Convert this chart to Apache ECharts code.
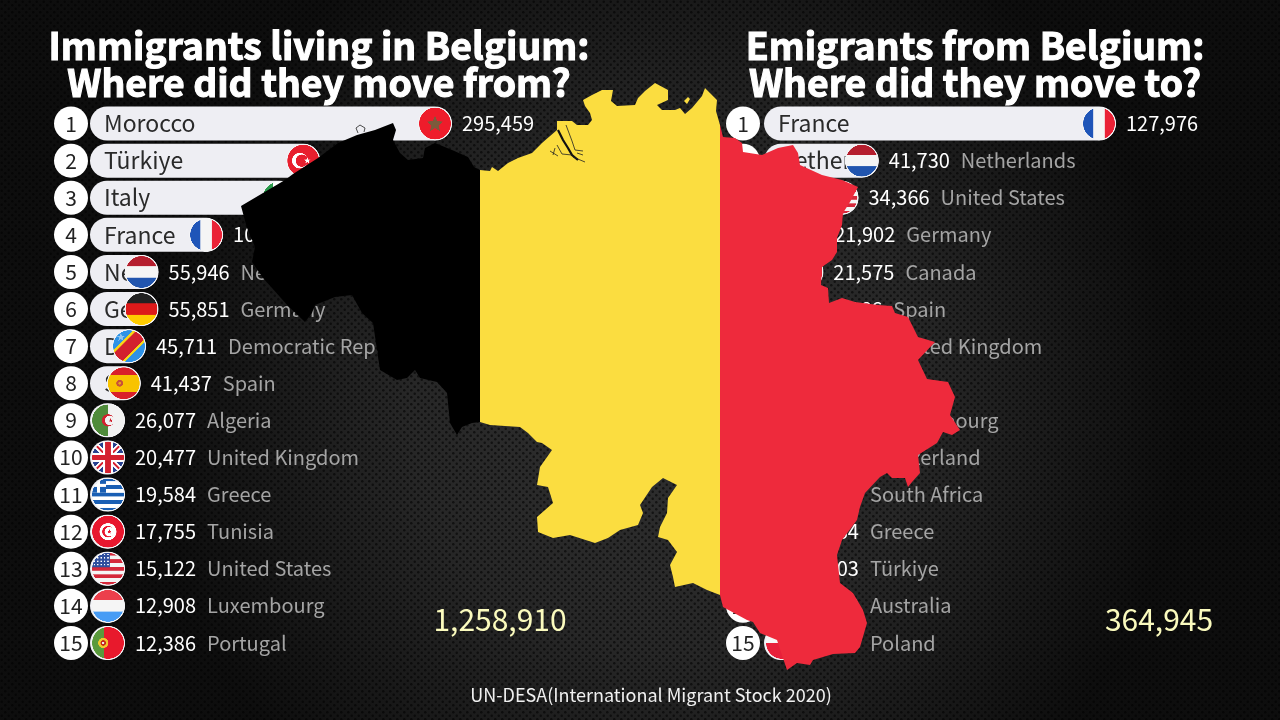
<!DOCTYPE html>
<html>
<head>
<meta charset="utf-8">
<style>html,body{margin:0;padding:0;background:#000}#c{width:1280px;height:720px}</style>
<script src="https://cdn.jsdelivr.net/npm/echarts@6/dist/echarts.min.js"></script>
</head>
<body>
<div id="c"></div>
<script>
const ranks = ['1','2','3','4','5','6','7','8','9','10','11','12','13','14','15'];
const leftNames = ['Morocco','Türkiye','Italy','France','Netherlands','Germany','Democratic Republic of the Congo','Spain','Algeria','United Kingdom','Greece','Tunisia','United States','Luxembourg','Portugal'];
const leftValues = [295459,187900,168000,108612,55946,55851,45711,41437,26077,20477,19584,17755,15122,12908,12386];
const rightNames = ['France','Netherlands','United States','Germany','Canada','Spain','United Kingdom','Italy','Luxembourg','Switzerland','South Africa','Greece','Türkiye','Australia','Poland'];
const rightValues = [127976,41730,34366,21902,21575,17166,16120,14960,12700,9910,9530,9284,9003,8830,8610];
const titleLeft = 'Immigrants living in Belgium:\nWhere did they move from?';
const titleRight = 'Emigrants from Belgium:\nWhere did they move to?';
const totalLeft = '1,258,910';
const totalRight = '364,945';
const sourceText = 'UN-DESA(International Migrant Stock 2020)';

// Silhouette of the country
const belgiumOutline = [[241,206],[263,193],[285,180],[293,174],[318,158],[338,143],[357,135],[375,130],[393,123],[396,130],[393,140],[400,153],[408,160],[423,158],[425,148],[435,143],[452,150],[468,157],[474,167],[480,170],[490,171],[492,167],[498,171],[508,163],[518,158],[532,153],[542,143],[557,130],[557,121],[572,121],[577,125],[588,125],[592,120],[590,113],[585,106],[583,100],[592,95],[602,90],[613,90],[611,101],[617,106],[635,105],[638,98],[645,91],[655,83],[668,90],[668,100],[657,105],[662,110],[675,110],[680,108],[685,114],[692,108],[702,96],[705,88],[717,100],[716,111],[720,125],[723,137],[735,138],[742,143],[743,152],[762,155],[778,148],[793,145],[798,153],[800,165],[822,175],[842,180],[858,187],[850,202],[843,213],[842,225],[837,238],[837,252],[832,260],[822,267],[821,285],[828,288],[829,303],[842,298],[855,302],[878,305],[892,306],[895,313],[908,317],[918,337],[935,342],[918,360],[927,379],[948,382],[955,397],[950,415],[960,430],[952,435],[943,432],[937,443],[918,455],[920,473],[912,482],[908,487],[905,478],[892,478],[887,473],[880,477],[865,493],[860,507],[857,520],[842,540],[837,555],[840,583],[853,593],[863,610],[867,623],[860,647],[855,653],[833,654],[813,660],[810,665],[797,663],[787,670],[783,658],[777,640],[760,633],[753,622],[747,620],[723,607],[720,595],[707,590],[693,583],[675,587],[673,577],[670,565],[677,552],[668,540],[658,537],[660,527],[667,513],[668,498],[677,485],[663,478],[652,487],[640,505],[643,513],[638,525],[620,530],[608,538],[595,543],[570,535],[553,538],[538,532],[537,517],[553,503],[548,487],[537,485],[540,467],[552,450],[542,443],[537,442],[528,433],[520,427],[490,425],[480,422],[472,423],[462,427],[457,435],[450,423],[447,393],[437,382],[420,378],[415,370],[407,378],[397,380],[380,370],[377,350],[373,323],[362,313],[352,295],[335,297],[315,305],[312,313],[305,322],[288,306],[272,288],[263,278],[252,262],[255,247],[247,228]];
const islandOutline = [[684,101],[688,97],[690,99],[687,104]];
const canalThick = [[558,130],[563,140],[568,148],[572,155],[578,160]];
const canalThin = [
  [[566,125],[572,141],[575,150]],
  [[575,150],[583,151]],
  [[577,153],[583,155]],
  [[573,157],[585,162]],
  [[572,155],[562,154],[557,145]],
  [[550,151],[558,156]],
  [[555,148],[553,155]],
  [[358,133],[356,128],[360,125],[365,128],[364,132]]
];

function star(g,x,y,r,n,inner){g.beginPath();for(let i=0;i<n*2;i++){const a=-Math.PI/2+i*Math.PI/n,q=i%2?r*(inner||0.4):r;g.lineTo(x+Math.cos(a)*q,y+Math.sin(a)*q);}g.closePath();g.fill();}
function hs(g,cols){const h=100/cols.length;cols.forEach((c,i)=>{g.fillStyle=c;g.fillRect(0,i*h,100,h+1);});}
function vs(g,cols){const w=100/cols.length;cols.forEach((c,i)=>{g.fillStyle=c;g.fillRect(i*w,0,w+1,100);});}
function crescent(g,x,y,r,cut,dx,col,bg){g.fillStyle=col;g.beginPath();g.arc(x,y,r,0,7);g.fill();g.fillStyle=bg;g.beginPath();g.arc(x+dx,y,cut,0,7);g.fill();}
const flagPainters = {
  'Morocco':g=>{g.fillStyle='#ee1c2b';g.fillRect(0,0,100,100);g.fillStyle='#7c5a3c';star(g,50,52,25,5,0.45);},
  'Türkiye':g=>{g.fillStyle='#e81f2e';g.fillRect(0,0,100,100);crescent(g,40,50,23,18,6,'#fff','#e81f2e');g.fillStyle='#fff';star(g,62,50,10,5);},
  'Italy':g=>vs(g,['#2a9a4b','#fff','#e8253a']),
  'France':g=>vs(g,['#1f55b8','#f5f5f5','#ea2236']),
  'Netherlands':g=>hs(g,['#b51f2e','#f5f5f5','#2155ae']),
  'Germany':g=>hs(g,['#222','#dd1a1a','#ffcc00']),
  'Democratic Republic of the Congo':g=>{g.fillStyle='#2e92e6';g.fillRect(0,0,100,100);g.save();g.translate(50,50);g.rotate(-Math.PI/4);g.fillStyle='#f7d618';g.fillRect(-80,-24,160,48);g.fillStyle='#d3202e';g.fillRect(-80,-17,160,34);g.restore();g.fillStyle='#8fc4ee';star(g,26,24,13,5);},
  'Spain':g=>{hs(g,['#d9202a','#f8c300','#f8c300','#d9202a']);g.fillStyle='#c8503a';g.beginPath();g.arc(38,50,10,0,7);g.fill();g.fillStyle='#e8a020';g.beginPath();g.arc(38,50,4,0,7);g.fill();},
  'Algeria':g=>{vs(g,['#4f8b3a','#f2f2f2']);crescent(g,50,50,18,14,5,'#d2232f','#f2f2f2');g.fillStyle='#d2232f';star(g,58,50,7,5);},
  'United Kingdom':g=>{g.fillStyle='#27408f';g.fillRect(0,0,100,100);g.strokeStyle='#fff';g.lineWidth=16;g.beginPath();g.moveTo(0,0);g.lineTo(100,100);g.moveTo(100,0);g.lineTo(0,100);g.stroke();g.strokeStyle='#d5202f';g.lineWidth=6;g.stroke();g.fillStyle='#fff';g.fillRect(36,0,28,100);g.fillRect(0,36,100,28);g.fillStyle='#d5202f';g.fillRect(42,0,16,100);g.fillRect(0,42,100,16);},
  'Greece':g=>{hs(g,['#1a5fb4','#fff','#1a5fb4','#fff','#1a5fb4','#fff','#1a5fb4','#fff','#1a5fb4']);g.fillStyle='#1a5fb4';g.fillRect(0,0,44,44);g.fillStyle='#fff';g.fillRect(18,0,9,44);g.fillRect(0,18,44,9);},
  'Tunisia':g=>{g.fillStyle='#e8172e';g.fillRect(0,0,100,100);g.fillStyle='#fff';g.beginPath();g.arc(50,50,25,0,7);g.fill();crescent(g,50,50,17,14,4,'#e8172e','#fff');g.fillStyle='#e8172e';star(g,54,50,7,5);},
  'United States':g=>{hs(g,['#d5283a','#f5f5f5','#d5283a','#f5f5f5','#d5283a','#f5f5f5','#d5283a','#f5f5f5','#d5283a']);g.fillStyle='#2f4f9e';g.fillRect(0,0,55,46);g.fillStyle='#fff';for(let r=0;r<4;r++)for(let c=0;c<5;c++)g.fillRect(8+c*10,6+r*10,4,4);},
  'Luxembourg':g=>hs(g,['#ec3f4c','#f5f5f5','#479cf5']),
  'Portugal':g=>{g.fillStyle='#5a9a3c';g.fillRect(0,0,38,100);g.fillStyle='#e8192c';g.fillRect(38,0,62,100);g.fillStyle='#f3c82c';g.beginPath();g.arc(36,50,15,0,7);g.fill();g.fillStyle='#c8281c';g.beginPath();g.arc(36,50,8,0,7);g.fill();g.fillStyle='#eee';g.beginPath();g.arc(36,50,3.5,0,7);g.fill();},
  'Canada':g=>{vs(g,['#e01f2f','#fff','#fff','#e01f2f']);g.fillStyle='#e01f2f';star(g,50,50,20,7,0.5);},
  'Switzerland':g=>{g.fillStyle='#e0202f';g.fillRect(0,0,100,100);g.fillStyle='#fff';g.fillRect(42,20,16,60);g.fillRect(20,42,60,16);},
  'South Africa':g=>{hs(g,['#d8202f','#2a8a4a','#1f3f9a']);},
  'Australia':g=>{g.fillStyle='#1f3a8f';g.fillRect(0,0,100,100);g.fillStyle='#fff';star(g,70,55,9,7);star(g,30,72,11,7);},
  'Poland':g=>hs(g,['#f7f7f7','#e8203a'])
};
const flagCache = {};
function flagImage(name){
  if(flagCache[name]) return flagCache[name];
  const cv=document.createElement('canvas');cv.width=cv.height=136;
  const g=cv.getContext('2d');
  g.scale(1.36,1.36);
  g.save();g.beginPath();g.arc(50,50,47,0,7);g.clip();
  flagPainters[name](g);
  g.restore();
  g.strokeStyle='#f4f4f6';g.lineWidth=3;g.beginPath();g.arc(50,50,48,0,7);g.stroke();
  return flagCache[name]=cv;
}
function carbon(){
  const cv=document.createElement('canvas');cv.width=cv.height=7;
  const g=cv.getContext('2d');
  g.fillStyle='#303030';g.fillRect(0,0,7,7);
  g.fillStyle='#151515';
  [[1.75,1.75],[5.25,5.25]].forEach(p=>{g.beginPath();g.arc(p[0],p[1],1.25,0,7);g.fill();});
  return cv;
}

const FONT='"Noto Sans CJK KR","Noto Sans CJK SC","Noto Sans",sans-serif';
const fmt=v=>v.toLocaleString('en-US');
const geoJson={type:'FeatureCollection',features:[{type:'Feature',properties:{name:'Belgium'},geometry:{type:'MultiPolygon',coordinates:[
  [belgiumOutline.concat([belgiumOutline[0]]).map(p=>[p[0],-p[1]])],
  [islandOutline.concat([islandOutline[0]]).map(p=>[p[0],-p[1]])]
]}}]};
echarts.registerMap('belgium',geoJson);

function barSeries(idx,names,values){
  return {
    type:'bar',xAxisIndex:idx,yAxisIndex:idx,z:2,
    data:values,barWidth:34,barMinHeight:35,
    itemStyle:{color:'#eeeef3',borderRadius:17},
    animation:false,silent:true,
    label:{show:true,position:'right',distance:10,
      formatter:p=>{
        const v='{v|'+fmt(p.value)+'}';
        return p.value>100000?v:v+'{n|'+names[p.dataIndex]+'}';
      },
      rich:{
        v:{color:'#ffffff',fontSize:20,fontFamily:FONT},
        n:{color:'#a4a4a4',fontSize:20,fontFamily:FONT,padding:[0,0,0,11]}
      }
    }
  };
}
function overlaySeries(idx,names,values){
  return {
    type:'custom',xAxisIndex:idx,yAxisIndex:idx,z:3,silent:true,animation:false,
    encode:{x:0,y:1},
    data:values.map((v,i)=>[v,i]),
    clip:false,
    renderItem:(params,api)=>{
      const i=api.value(1);
      const start=api.coord([0,i]);
      const end=Math.max(api.coord([api.value(0),i])[0],start[0]+35);
      const cy=start[1];
      return {type:'group',children:[
        {type:'group',
         clipPath:{type:'rect',shape:{x:start[0],y:cy-17,width:end-start[0]-17,height:34}},
         children:[{type:'text',style:{x:start[0]+14,y:cy,text:names[i],fill:'#2a2a2a',font:'23px '+FONT,textVerticalAlign:'middle',verticalAlign:'middle'}}]},
        {type:'image',style:{image:flagImage(names[i]),x:end-34,y:cy-17,width:34,height:34}}
      ]};
    }
  };
}
function rankAxis(idx,margin){
  return {
    type:'category',gridIndex:idx,inverse:true,data:ranks,
    axisLine:{show:false},axisTick:{show:false},splitLine:{show:false},
    axisLabel:{interval:0,margin:margin,formatter:'{r|{value}}',
      rich:{r:{width:34,height:34,lineHeight:35,align:'center',verticalAlign:'middle',backgroundColor:'#ffffff',borderRadius:17,color:'#222',fontSize:21,fontFamily:FONT}}}
  };
}
function valueAxis(idx,max){
  return {type:'value',gridIndex:idx,min:0,max:max,show:false,splitLine:{show:false}};
}
const chart=echarts.init(document.getElementById('c'),null,{renderer:'canvas',width:1280,height:720});
const titleStyle={color:'#ffffff',fontSize:37.4,fontWeight:'bold',fontFamily:FONT,lineHeight:37,align:'center',textBorderColor:'#ffffff',textBorderWidth:1.1};
const totalStyle={color:'#fbfbbe',fontSize:30,fontWeight:'normal',fontFamily:FONT};
chart.setOption({
  animation:false,
  backgroundColor:{image:carbon(),repeat:'repeat'},
  graphic:[{type:'rect',z:-5,silent:true,shape:{x:0,y:0,width:1280,height:720},
    style:{fill:new echarts.graphic.RadialGradient(0.52,0.55,0.72,[
      {offset:0,color:'rgba(0,0,0,0)'},{offset:0.5,color:'rgba(0,0,0,0.2)'},{offset:1,color:'rgba(0,0,0,0.72)'}])}}],
  title:[
    {text:titleLeft,left:314,top:22,textAlign:'center',textStyle:titleStyle},
    {text:titleRight,left:970,top:22,textAlign:'center',textStyle:titleStyle},
    {text:totalLeft,left:495,top:600,textAlign:'center',textStyle:totalStyle},
    {text:totalRight,left:1154,top:600,textAlign:'center',textStyle:totalStyle},
    {text:sourceText,left:646,top:681,textAlign:'center',textStyle:{color:'#f0f0f0',fontSize:18,fontWeight:'normal',fontFamily:FONT}}
  ],
  grid:[
    {left:90,top:105,width:362,height:556.5,containLabel:false},
    {left:764,top:105,width:352,height:556.5,containLabel:false}
  ],
  xAxis:[valueAxis(0,leftValues[0]),valueAxis(1,rightValues[0])],
  yAxis:[rankAxis(0,2),rankAxis(1,4)],
  geo:{
    map:'belgium',z:10,silent:true,roam:false,aspectScale:1,
    left:241,top:83,width:719,height:587,
    label:{show:false},
    itemStyle:{borderWidth:0,areaColor:new echarts.graphic.LinearGradient(0,0,1,0,[
      {offset:0,color:'#000000'},{offset:0.3324,color:'#000000'},
      {offset:0.3324,color:'#fbdd40'},{offset:0.6662,color:'#fbdd40'},
      {offset:0.6662,color:'#ee2a3c'},{offset:1,color:'#ee2a3c'}])},
    emphasis:{disabled:true},select:{disabled:true}
  },
  series:[
    barSeries(0,leftNames,leftValues),
    barSeries(1,rightNames,rightValues),
    overlaySeries(0,leftNames,leftValues),
    overlaySeries(1,rightNames,rightValues),
    {type:'lines',coordinateSystem:'geo',polyline:true,z:11,silent:true,animation:false,
     lineStyle:{color:'#111',width:2.2,opacity:1},
     data:[{coords:canalThick.map(p=>[p[0],-p[1]])}]},
    {type:'lines',coordinateSystem:'geo',polyline:true,z:11,silent:true,animation:false,
     lineStyle:{color:'#222',width:0.8,opacity:1},
     data:canalThin.map(l=>({coords:l.map(p=>[p[0],-p[1]])}))}
  ]
});
</script>
</body>
</html>
